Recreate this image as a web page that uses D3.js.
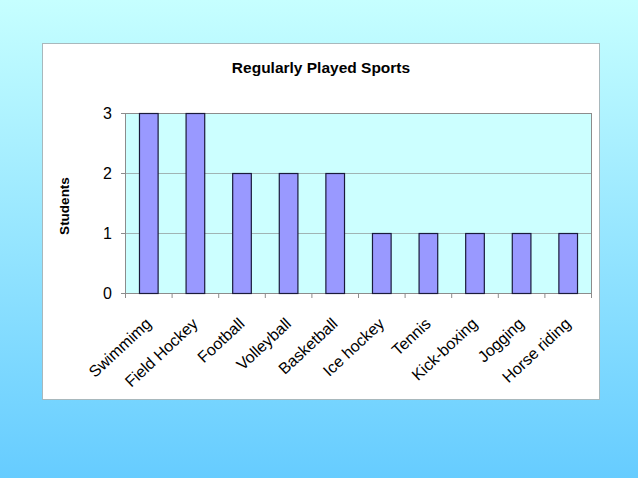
<!DOCTYPE html>
<html>
<head>
<meta charset="utf-8">
<title>Regularly Played Sports</title>
<style>
  body { margin: 0; padding: 0; }
  svg { display: block; font-family: "Liberation Sans", Arial, sans-serif; }
</style>
</head>
<body>
<div id="chart"></div>
<script src="https://d3js.org/d3.v7.min.js"></script>
<script>
// data
const sports = ["Swimmimg", "Field Hockey", "Football", "Volleyball", "Basketball",
                "Ice hockey", "Tennis", "Kick-boxing", "Jogging", "Horse riding"];
const students = [3, 3, 2, 2, 2, 1, 1, 1, 1, 1];
const yTicks = [0, 1, 2, 3];

const width = 638, height = 478;

// plot area inside the white panel
const plot = { left: 125, right: 591, top: 113, bottom: 293 };

const svg = d3.select("#chart").append("svg")
  .attr("width", width)
  .attr("height", height);

// slide background gradient
const grad = svg.append("defs").append("linearGradient")
  .attr("id", "bg").attr("x1", 0).attr("y1", 0).attr("x2", 0).attr("y2", 1);
grad.append("stop").attr("offset", "0%").attr("stop-color", "#c6ffff");
grad.append("stop").attr("offset", "100%").attr("stop-color", "#66ccff");

svg.append("rect").attr("width", width).attr("height", height).attr("fill", "url(#bg)");

// white chart panel
svg.append("rect")
  .attr("x", 42.5).attr("y", 43.5)
  .attr("width", 557).attr("height", 356)
  .attr("fill", "#ffffff")
  .attr("stroke", "#a8b8bc")
  .attr("stroke-width", 1);

const x = d3.scaleBand()
  .domain(sports)
  .range([plot.left, plot.right])
  .paddingInner(0.6)
  .paddingOuter(0.3);

const y = d3.scaleLinear()
  .domain([0, 3])
  .range([plot.bottom, plot.top]);

// plot background
svg.append("rect")
  .attr("x", plot.left).attr("y", plot.top)
  .attr("width", plot.right - plot.left).attr("height", plot.bottom - plot.top)
  .attr("fill", "#ccffff");

// gridlines
svg.append("g")
  .selectAll("line")
  .data(yTicks.filter(d => d > 0))
  .join("line")
  .attr("x1", plot.left).attr("x2", plot.right)
  .attr("y1", d => y(d) + 0.5).attr("y2", d => y(d) + 0.5)
  .attr("stroke", "#a0b4b4")
  .attr("stroke-width", 1);

// plot border
svg.append("rect")
  .attr("x", plot.left + 0.5).attr("y", plot.top + 0.5)
  .attr("width", plot.right - plot.left).attr("height", plot.bottom - plot.top)
  .attr("fill", "none")
  .attr("stroke", "#8c8c8c");

// bars
svg.append("g")
  .selectAll("rect")
  .data(sports)
  .join("rect")
  .attr("x", d => x(d) + 0.5)
  .attr("y", (d, i) => y(students[i]) + 0.5)
  .attr("width", x.bandwidth())
  .attr("height", (d, i) => y(0) - y(students[i]))
  .attr("fill", "#9999ff")
  .attr("stroke", "#1a1a3a")
  .attr("stroke-width", 1.2);

// y axis labels
const yAxis = svg.append("g")
  .attr("transform", "translate(" + plot.left + ",0)")
  .call(d3.axisLeft(y).tickValues(yTicks).tickFormat(d3.format("d")).tickSize(4).tickPadding(9));
yAxis.select(".domain").remove();
yAxis.selectAll("line").attr("stroke", "#8c8c8c");
yAxis.selectAll("text").attr("font-size", 16).attr("fill", "#000").attr("font-family", "Liberation Sans, Arial, sans-serif");

// x axis ticks at category boundaries
const bounds = d3.range(sports.length + 1).map(i => plot.left + i * (plot.right - plot.left) / sports.length);
svg.append("g")
  .selectAll("line")
  .data(bounds)
  .join("line")
  .attr("x1", d => d + 0.5).attr("x2", d => d + 0.5)
  .attr("y1", plot.bottom).attr("y2", plot.bottom + 5)
  .attr("stroke", "#8c8c8c");

// rotated category labels
svg.append("g")
  .selectAll("text")
  .data(sports)
  .join("text")
  .attr("transform", d => "translate(" + (x(d) + x.bandwidth() / 2 + 4) + "," + (plot.bottom + 32) + ") rotate(-43)")
  .attr("text-anchor", "end")
  .attr("font-size", 16)
  .attr("fill", "#000")
  .text(d => d);

// title
svg.append("text")
  .attr("x", 321).attr("y", 73)
  .attr("text-anchor", "middle")
  .attr("font-size", 15.5)
  .attr("font-weight", "bold")
  .text("Regularly Played Sports");

// y axis title
svg.append("text")
  .attr("transform", "translate(69,206) rotate(-90)")
  .attr("text-anchor", "middle")
  .attr("font-size", 13.5)
  .attr("font-weight", "bold")
  .text("Students");
</script>
</body>
</html>
